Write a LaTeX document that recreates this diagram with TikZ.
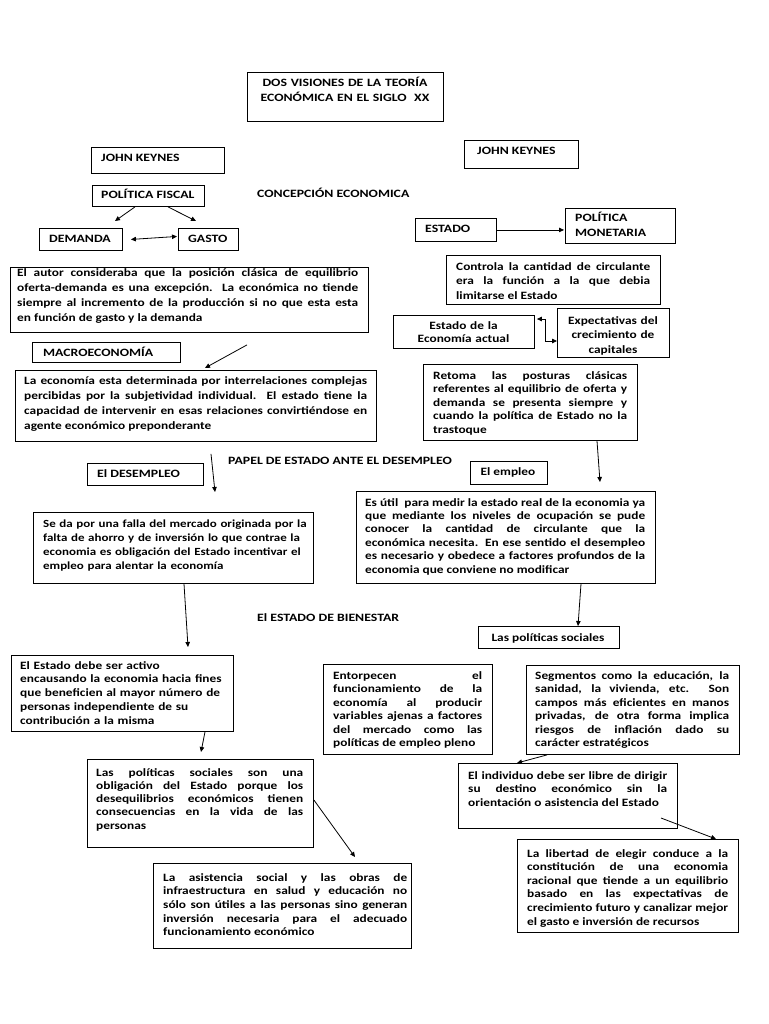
\documentclass[tikz,border=0pt]{standalone}
\usepackage{fontspec}
\setmainfont{Carlito}[FakeStretch=1.19]
\newfontfamily\capf{Carlito}[FakeStretch=1.23]
\usetikzlibrary{arrows.meta,calc}
\tolerance=10000 \hbadness=10000 \hfuzz=30pt \hyphenpenalty=10000 \exhyphenpenalty=10000
\newcommand\mybx[5]{\node[bx,minimum width=#4pt-#2pt,minimum height=#5pt-#3pt] (#1) at (#2,#3) {};}
\newcommand\fs[1]{\bfseries\fontsize{11.2}{#1}\selectfont}
\newcommand\cfs[1]{\capf\bfseries\fontsize{11.2}{#1}\selectfont}
\tikzset{
  bx/.style={draw, line width=0.9pt, inner sep=0pt, anchor=north west},
  tx/.style={anchor=base west, inner sep=0pt, font=\fs{13.6}, align=justify},
  lbl/.style={anchor=base west, inner sep=0pt, font=\fs{13.6}},
  clbl/.style={anchor=base west, inner sep=0pt, font=\cfs{13.6}},
  arr/.style={line width=0.8pt, -{Triangle[length=5pt,width=4.5pt]}},
  darr/.style={line width=0.8pt, {Triangle[length=5pt,width=4.5pt]}-{Triangle[length=5pt,width=4.5pt]}},
}
\begin{document}
\begin{tikzpicture}[x=1pt,y=-1pt]
\fill[white] (0,0) rectangle (768,1024);
\useasboundingbox (0,0) rectangle (768,1024);
% boxes
\mybx{title}{247}{72}{443}{121}
\mybx{jk1}{91}{147}{224}{173}
\mybx{pf}{92}{185}{204}{206}
\mybx{dem}{39}{228}{122}{250}
\mybx{gas}{178}{228}{238}{250}
\mybx{jk2}{464}{140}{578}{168}
\mybx{est}{415}{218}{496}{241}
\mybx{pm}{565}{208}{675}{243}
\mybx{ctrl}{446}{255}{660}{304}
\mybx{eea}{393}{315}{534}{348}
\mybx{exp}{557}{308}{669}{357}
\mybx{autor}{10}{267}{368}{332}
\mybx{macro}{32}{342}{180}{362}
\mybx{econ}{15}{370}{376}{441}
\mybx{desemp}{87}{463}{203}{485}
\mybx{seda}{33}{512}{313}{583}
\mybx{activo}{11}{655}{233}{731}
\mybx{polsoc}{87}{759}{313}{847}
\mybx{asist}{153}{863}{411}{948}
\mybx{retoma}{423}{364}{637}{440}
\mybx{empleo}{470}{461}{547}{484}
\mybx{util}{356}{491}{655}{583}
\mybx{ps}{478}{626}{619}{648}
\mybx{entor}{323}{664}{492}{754}
\mybx{segm}{526}{665}{739}{754}
\mybx{indiv}{458}{763}{677}{828}
\mybx{libertad}{517}{839}{738}{932}
% texts
\node[tx, align=center, anchor=base, text width=196pt, font=\cfs{15}] (title-t) at (345,87) {DOS VISIONES DE LA TEORÍA\\ECONÓMICA EN EL SIGLO~~XX};
\node[clbl] (jk1-t) at (101,162) {JOHN KEYNES};
\node[clbl] (pf-t) at (101,199) {POLÍTICA FISCAL};
\node[clbl] (dem-t) at (49,243) {DEMANDA};
\node[clbl] (gas-t) at (188,243) {GASTO};
\node[clbl] (jk2-t) at (477,155) {JOHN KEYNES};
\node[clbl] (est-t) at (425,233) {ESTADO};
\node[tx, align=left, text width=100pt, font=\cfs{15}] (pm-t) at (575,222) {POLÍTICA\\MONETARIA};
\node[tx, text width=194pt, font=\fs{14.5}] (ctrl-t) at (456,270) {Controla la cantidad de circulante\linebreak era la función a la que debia\linebreak limitarse el Estado};
\node[tx, align=center, anchor=base, text width=140pt, font=\fs{13.5}] (eea-t) at (463.5,329) {Estado de la\\Economía actual};
\node[tx, align=center, anchor=base, text width=110pt, font=\fs{14.5}] (exp-t) at (613,324) {Expectativas del\\crecimiento de\\capitales};
\node[tx, text width=341pt, font=\fs{15.3}] (autor-t) at (17,276) {El autor consideraba que la posición clásica de equilibrio\linebreak oferta-demanda es una excepción. La económica no tiende\linebreak siempre al incremento de la producción si no que esta esta\linebreak en función de gasto y la demanda};
\node[clbl] (macro-t) at (43,356) {MACROECONOMÍA};
\node[tx, text width=343pt, font=\fs{15}] (econ-t) at (24,384) {La economía esta determinada por interrelaciones complejas\linebreak percibidas por la subjetividad individual. El estado tiene la\linebreak capacidad de intervenir en esas relaciones convirtiéndose en\linebreak agente económico preponderante};
\node[clbl] (desemp-t) at (97,477) {El DESEMPLEO};
\node[tx, align=left, text width=275pt, font=\bfseries\fontsize{10.9}{14.3}\selectfont] (seda-t) at (43,527) {Se da por una falla del mercado originada por~la\\falta de ahorro y de inversión lo que contrae la\\economia es obligación del Estado incentivar el\\empleo para alentar la economía};
\node[tx, align=left, text width=215pt, font=\fs{13.8}] (activo-t) at (20,669) {El Estado debe ser activo\\encausando la economia hacia fines\\que beneficien al mayor número de\\personas independiente de su\\contribución a la misma};
\node[tx, text width=207pt, font=\fs{13.3}] (polsoc-t) at (96,776) {Las políticas sociales son una\linebreak obligación del Estado porque los\linebreak desequilibrios económicos tienen\linebreak consecuencias en la vida de las\linebreak personas};
\node[tx, text width=244pt, font=\fs{13.7}] (asist-t) at (163,881) {La asistencia social y las obras de\linebreak infraestructura en salud y educación no\linebreak sólo son útiles a las personas sino generan\linebreak inversión necesaria para el adecuado\linebreak funcionamiento económico};
\node[tx, text width=194pt] (retoma-t) at (433,379) {Retoma las posturas clásicas\linebreak referentes al equilibrio de oferta y\linebreak demanda se presenta siempre y\linebreak cuando la política de Estado no la\linebreak trastoque};
\node[lbl, anchor=base] (empleo-t) at (508,475) {El empleo};
\node[tx, text width=280pt, font=\fs{13.4}] (util-t) at (365,506) {Es útil~ para medir la estado real de la economia ya\linebreak que mediante los niveles de ocupación se pude\linebreak conocer la cantidad de circulante que la\linebreak económica necesita. En ese sentido el desempleo\linebreak es necesario y obedece a factores profundos de la\linebreak economia que conviene no modificar};
\node[lbl, anchor=base] (ps-t) at (548,641) {Las políticas sociales};
\node[tx, text width=149pt, font=\fs{13.5}] (entor-t) at (333,679) {Entorpecen el\linebreak funcionamiento de la\linebreak economía al producir\linebreak variables ajenas a factores\linebreak del mercado como las\linebreak políticas de empleo pleno};
\node[tx, text width=194pt, font=\fs{13.5}] (segm-t) at (535,679) {Segmentos como la educación, la\linebreak sanidad, la vivienda, etc. Son\linebreak campos más eficientes en manos\linebreak privadas, de otra forma implica\linebreak riesgos de inflación dado su\linebreak carácter estratégicos};
\node[tx, text width=199pt, font=\fs{13.5}] (indiv-t) at (468,779) {El individuo debe ser libre de dirigir\linebreak su destino económico sin la\linebreak orientación o asistencia del Estado};
\node[tx, text width=201pt] (libertad-t) at (527,857) {La libertad de elegir conduce a la\linebreak constitución de una economia\linebreak racional que tiende a un equilibrio\linebreak basado en las expectativas de\linebreak crecimiento futuro y canalizar mejor\linebreak el gasto e inversión de recursos};
% free labels
\node[clbl] (concep) at (257,198) {CONCEPCIÓN ECONOMICA};
\node[clbl] (papel) at (228,464) {PAPEL DE ESTADO ANTE EL DESEMPLEO};
\node[clbl] (bienestar) at (257,621) {El ESTADO DE BIENESTAR};
% connectors
\draw[arr] ($(pf.south west)+(43,0)$) -- ($(dem.north west)+(76,-7)$);
\draw[arr] ($(pf.south west)+(76,0)$) -- ($(gas.north west)+(18,-7)$);
\draw[darr] ($(dem.east)+(8,0)$) -- ($(gas.west)+(-1,-3)$);
\draw[arr] (est.east) -- ($(pm.west|-est.east)+(-1,0)$);
\draw[darr] ($(eea.north east)+(2,4)$) -| ($(exp.north west)+(-12,33)$) -- ($(exp.north west)+(0,33)$);
\draw[arr] ($(autor.south west)+(237,12)$) -- ($(econ.north west)+(190,-2)$);
\draw[arr] ($(econ.south west)+(196,12)$) -- ($(seda.north west)+(182,-20)$);
\draw[arr] ($(seda.south west)+(151,0)$) -- ($(activo.north west)+(177,-8)$);
\draw[arr] ($(activo.south west)+(194,0)$) -- ($(polsoc.north west)+(114,-7)$);
\draw[arr] ($(polsoc.north east)+(0,41)$) -- ($(asist.north west)+(202,-6)$);
\draw[arr] ($(retoma.south west)+(174,0)$) -- ($(util.north west)+(244,-9)$);
\draw[arr] ($(util.south west)+(225,0)$) -- ($(ps.north west)+(100,0)$);
\draw[arr] ($(segm.south west)+(21,0)$) -- ($(indiv.north west)+(59,0)$);
\draw[arr] ($(indiv.north west)+(203,55)$) -- ($(libertad.north west)+(199,0)$);
\end{tikzpicture}
\end{document}
